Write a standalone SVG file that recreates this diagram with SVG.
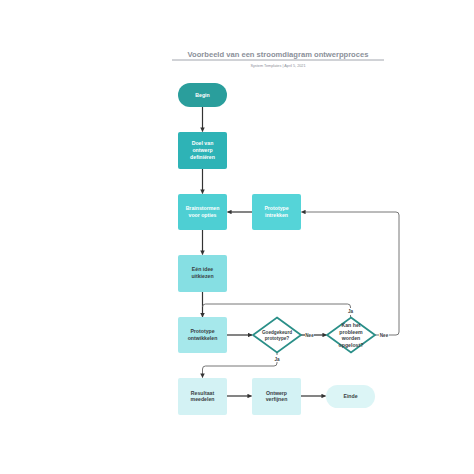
<svg xmlns="http://www.w3.org/2000/svg" width="474" height="474" viewBox="0 0 474 474">
<style>
.t{font-family:"Liberation Sans",Arial,sans-serif;font-weight:bold;font-size:5.2px;text-anchor:middle}
.s{font-size:4.7px}
.w{fill:#ffffff}
.d{fill:#3a3f44}
.lbl{font-family:"Liberation Sans",Arial,sans-serif;font-weight:bold;font-size:4.6px;fill:#3a3f44;text-anchor:middle}
.c{fill:none;stroke:#333333;stroke-width:1.2}
.c2{fill:none;stroke:#666666;stroke-width:0.9}
.dia{fill:#ffffff;stroke:#2a8f88;stroke-width:1.8}
</style>
<defs>
<marker id="ah" viewBox="0 0 10 10" refX="9" refY="5" markerWidth="4.5" markerHeight="4.5" orient="auto" markerUnits="userSpaceOnUse">
<path d="M0,0 L10,5 L0,10 z" fill="#333333"/>
</marker>
</defs>
<rect width="474" height="474" fill="#ffffff"/>
<g id="title">
<text x="278" y="56.8" style="font-family:'Liberation Sans',Arial,sans-serif;font-weight:bold;font-size:7.6px;fill:#8b909a;text-anchor:middle">Voorbeeld van een stroomdiagram ontwerpproces</text>
<line x1="172" y1="60" x2="384" y2="60" stroke="#8b909a" stroke-width="0.8"/>
<text x="278" y="66.5" style="font-family:'Liberation Sans',Arial,sans-serif;font-size:3.8px;fill:#8b909a;text-anchor:middle">System Templates  |  April 5, 2021</text>
</g>
<g id="connectors">
<line class="c" x1="202.5" y1="107" x2="202.5" y2="131.5" marker-end="url(#ah)"/>
<line class="c" x1="202.5" y1="169" x2="202.5" y2="193.5" marker-end="url(#ah)"/>
<line class="c" x1="252" y1="212" x2="227.5" y2="212" marker-end="url(#ah)"/>
<line class="c" x1="202.5" y1="230" x2="202.5" y2="254.5" marker-end="url(#ah)"/>
<line class="c" x1="202.5" y1="292" x2="202.5" y2="317" marker-end="url(#ah)"/>
<line class="c" x1="227" y1="335" x2="252" y2="335" marker-end="url(#ah)"/>
<line class="c" x1="301" y1="335" x2="305" y2="335"/>
<line class="c" x1="314" y1="335" x2="326.5" y2="335" marker-end="url(#ah)"/>
<path class="c2" d="M375,335 H379 M389,335 H396 Q399,335 399,332 V215 Q399,212 396,212 H301.5" marker-end="url(#ah)"/>
<path class="c2" d="M350.5,317 V315 M350.5,308 V307 Q350.5,304 347.5,304 H205.5 Q202.5,304 202.5,307"/>
<path class="c2" d="M277,353 V355 M277,362 V363 Q277,366 274,366 H205.5 Q202.5,366 202.5,369 V377.5" marker-end="url(#ah)"/>
<line class="c" x1="227" y1="396" x2="251.5" y2="396" marker-end="url(#ah)"/>
<line class="c" x1="301" y1="396" x2="325.5" y2="396" marker-end="url(#ah)"/>
<text class="lbl" x="309.5" y="336.6">Nee</text>
<text class="lbl" x="384" y="336.6">Nee</text>
<text class="lbl" x="350.5" y="313">Ja</text>
<text class="lbl" x="277" y="360.5">Ja</text>
</g>
<g id="begin">
<rect x="178" y="83" width="49" height="24" rx="12" fill="#2a9e9c"/>
<text class="t w" x="202.5" y="96.8">Begin</text>
</g>
<g id="doel">
<rect x="178" y="132" width="49" height="37" rx="2" fill="#2eb3b6"/>
<text class="t w" x="202.5" y="144.8">Doel van</text>
<text class="t w" x="202.5" y="151.8">ontwerp</text>
<text class="t w" x="202.5" y="158.8">definiëren</text>
</g>
<g id="brainstorm">
<rect x="178" y="194" width="49" height="36" rx="2" fill="#4ecfd3"/>
<text class="t w" x="202.5" y="210">Brainstormen</text>
<text class="t w" x="202.5" y="217">voor opties</text>
</g>
<g id="intrekken">
<rect x="252" y="194" width="49" height="36" rx="2" fill="#55d4d8"/>
<text class="t w" x="276.5" y="210">Prototype</text>
<text class="t w" x="276.5" y="217">intrekken</text>
</g>
<g id="idee">
<rect x="178" y="255" width="49" height="37" rx="2" fill="#86dfe3"/>
<text class="t d" x="202.5" y="271">Eén idee</text>
<text class="t d" x="202.5" y="278">uitkiezen</text>
</g>
<g id="ontwikkelen">
<rect x="178" y="317" width="49" height="36" rx="2" fill="#a6e8eb"/>
<text class="t d" x="202.5" y="333">Prototype</text>
<text class="t d" x="202.5" y="340">ontwikkelen</text>
</g>
<g id="goedgekeurd">
<polygon class="dia" points="277,317.5 301,335 277,352.5 253,335"/>
<text class="t s d" x="277" y="333.5">Goedgekeurd</text>
<text class="t s d" x="277" y="340">prototype?</text>
</g>
<g id="opgelost">
<polygon class="dia" points="351,317.5 375,335 351,352.5 327,335"/>
<text class="t d" x="351" y="327">Kan het</text>
<text class="t d" x="351" y="333.7">probleem</text>
<text class="t d" x="351" y="340.4">worden</text>
<text class="t d" x="351" y="347.1">opgelost?</text>
</g>
<g id="resultaat">
<rect x="178" y="378" width="49" height="37" rx="2" fill="#d3f2f4"/>
<text class="t d" x="202.5" y="394.5">Resultaat</text>
<text class="t d" x="202.5" y="401">meedelen</text>
</g>
<g id="verfijnen">
<rect x="252" y="378" width="49" height="37" rx="2" fill="#d3f2f4"/>
<text class="t d" x="276.5" y="394.5">Ontwerp</text>
<text class="t d" x="276.5" y="401">verfijnen</text>
</g>
<g id="einde">
<rect x="326" y="385" width="49" height="23" rx="11.5" fill="#dcf5f6"/>
<text class="t d" x="350.5" y="398.3">Einde</text>
</g>
</svg>
